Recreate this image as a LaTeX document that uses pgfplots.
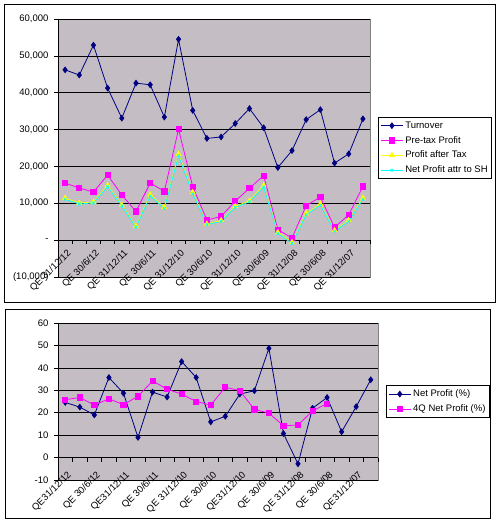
\documentclass[border=0pt]{standalone}
\usepackage{fontspec}
\setmainfont{Liberation Sans}
\usepackage{pgfplots}
\pgfplotsset{compat=1.18}
\usepackage{pgfplotstable}

\definecolor{plotbg}{RGB}{196,189,196}
\definecolor{navyc}{RGB}{0,0,128}
\definecolor{magc}{RGB}{255,0,255}
\definecolor{yelc}{RGB}{255,255,0}
\definecolor{cyac}{RGB}{0,255,255}

% quarterly figures, newest first
\pgfplotstableread{
idx turnover pretax aftertax netsh
1  46200 15500 11400 11100
2  44800 14150 10100 9800
3  52900 13050 10350 10100
4  41250 17650 14850 14500
5  33100 12250 9550  9300
6  42600 7800  3750  3500
7  42150 15500 12350 12000
8  33400 13250 8900  8600
9  54500 30100 23350 22900
10 35200 14500 12950 12600
11 27600 5450  4400  4200
12 28000 6450  5350  5100
13 31650 10600 9150  8900
14 35700 14100 10700 10400
15 30500 17500 14850 14400
16 19700 2850  2100  1800
17 24300 600   -600  -900
18 32700 9350  7200  6900
19 35400 11700 9800  9500
20 20900 3450  2650  2400
21 23400 6900  5350  5100
22 32900 14600 11450 11100
}\fin

\pgfplotstableread{
idx net fourq
1  24.6 25.8
2  22.5 26.8
3  19.0 23.4
4  35.7 26.2
5  28.7 23.6
6  9.0  27.3
7  29.2 34.2
8  27.0 30.5
9  42.8 28.3
10 35.7 25.0
11 15.9 23.4
12 18.4 31.4
13 28.3 29.8
14 29.8 21.5
15 48.7 19.8
16 10.7 14.2
17 -2.8 14.5
18 22.0 20.8
19 26.8 24.1
20 11.5 nan
21 22.7 nan
22 34.7 nan
}\pct

\pgfplotsset{
  xlchart/.style={
    scale only axis, xmin=0.5, xmax=22.5,
    axis x line*=middle, axis y line*=left,
    hide obscured x ticks=false, hide obscured y ticks=false,
    scaled y ticks=false,
    axis background/.style={fill=plotbg, draw=gray},
    xtick={0.5,1.5,...,22.5},
    xticklabels={,,,,,,,,,,,,,,,,,,,,,,},
    extra x ticks={1,3,...,21},
    extra x tick style={major tick length=0pt,
      tick label style={rotate=45, anchor=north east, inner sep=1pt}},
    ymajorgrids, grid style={black, line width=0.6pt},
    tick align=outside, major tick length=4pt,
    tick style={black, line width=0.6pt},
    axis line style={black, line width=0.8pt},
    tick label style={font=\fontsize{9.5}{11}\selectfont},
    yticklabel style={xshift=-2pt},
    legend style={draw=black, line width=0.8pt, fill=white,
      font=\fontsize{9.5}{11}\selectfont, cells={anchor=west},
      inner sep=2pt, row sep=2.5pt},
    legend image code/.code={
      \draw[mark repeat=2,mark phase=2] plot coordinates {(0pt,0pt) (11pt,0pt) (22pt,0pt)};},
  },
}

\begin{document}
\begin{tikzpicture}
\useasboundingbox (0,0) rectangle (497pt,-525pt);
\draw[line width=1pt] (4pt,-4pt) rectangle (495pt,-302pt);
\draw[line width=1pt] (5pt,-309pt) rectangle (490pt,-518pt);

\begin{axis}[xlchart,
  at={(58pt,-19pt)}, anchor=north west,
  width=312pt, height=258pt,
  ymin=-10000, ymax=60000,
  ytick={-10000,0,...,60000},
  yticklabels={{(10,000)},{-},{10,000},{20,000},{30,000},{40,000},{50,000},{60,000}},
  extra x tick labels={QE 31/12/12,QE 30/6/12,QE 31/12/11,QE 30/6/11,QE 31/12/10,QE 30/6/10,QE 31/12/10,QE 30/6/09,QE 31/12/08,QE 30/6/08,QE 31/12/07},
  extra x tick style={tick label style={xshift=-4pt, yshift=-6pt}},
  legend style={at={(1.026,0.5)}, anchor=west},
]
\addplot[navyc, line width=0.8pt, mark=diamond*, mark size=2.8pt] table[x=idx,y=turnover] {\fin};
\addplot[magc, line width=0.8pt, mark=square*, mark size=2.6pt] table[x=idx,y=pretax] {\fin};
\addplot[yelc, line width=0.8pt, mark=triangle*, mark size=2.8pt] table[x=idx,y=aftertax] {\fin};
\addplot[cyac, line width=0.8pt, mark=x, mark size=1.8pt] table[x=idx,y=netsh] {\fin};
\legend{Turnover, Pre-tax Profit, Profit after Tax, Net Profit attr to SH}
\end{axis}

\begin{axis}[xlchart,
  at={(58pt,-323pt)}, anchor=north west,
  width=320pt, height=157pt,
  ymin=-10, ymax=60,
  ytick={-10,0,...,60},
  yticklabels={-10,0,10,20,30,40,50,60},
  extra x tick labels={QE31/12/12,QE 30/6/12,QE31/12/11,QE 30/6/11,QE 31/12/10,QE 30/6/10,QE31/12/10,QE 30/6/09,QE 31/12/08,QE 30/6/08,QE31/12/07},
  extra x tick style={tick label style={xshift=-7pt, yshift=-9pt}},
  legend style={at={(1.025,0.5)}, anchor=west},
]
\addplot[navyc, line width=0.8pt, mark=diamond*, mark size=2.8pt] table[x=idx,y=net] {\pct};
\addplot[magc, line width=0.8pt, mark=square*, mark size=2.6pt] table[x=idx,y=fourq] {\pct};
\legend{Net Profit (\%), 4Q Net Profit (\%)}
\end{axis}
\end{tikzpicture}
\end{document}
